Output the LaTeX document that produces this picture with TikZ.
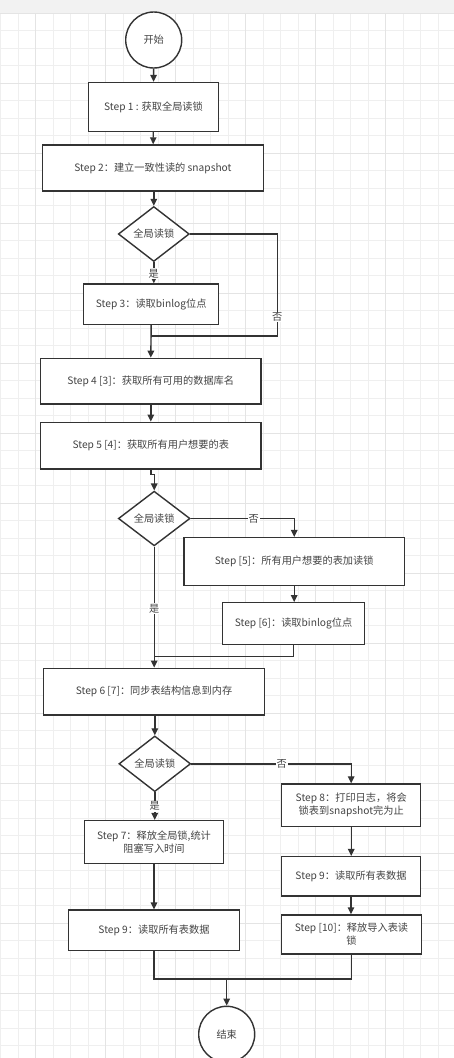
\documentclass[tikz,border=0pt]{standalone}
\usepackage{fontspec}
\setmainfont{Noto Sans CJK SC}
\usetikzlibrary{shapes.geometric,arrows.meta}
\definecolor{ink}{HTML}{333333}
\definecolor{txt}{HTML}{444444}
\definecolor{gminor}{HTML}{EFEFEF}
\definecolor{gmajor}{HTML}{E4E4E4}
\definecolor{band}{HTML}{F2F2F2}
\tikzset{
  base/.style={draw=ink, line width=1.4pt, text=txt, font=\fontsize{10.2}{13}\selectfont, align=center, inner sep=0pt},
  stepbox/.style={base, rectangle, fill=white},
  decide/.style={base, diamond, fill=white, aspect=1.3},
  term/.style={base, circle, fill=white, minimum size=56pt},
  flow/.style={draw=ink, line width=1.4pt, -{Triangle[width=6.5pt,length=7pt]}},
  link/.style={draw=ink, line width=1.4pt},
  lbl/.style={fill=white, text=txt, font=\fontsize{10.2}{12}\selectfont, inner sep=1pt}
}
\begin{document}
\begin{tikzpicture}[x=1pt,y=-1pt]
\useasboundingbox (0,0) rectangle (454,1058);
% background
\fill[band] (0,0) rectangle (454,13.3);
\fill[white] (0,13.3) rectangle (454,1058);
\foreach \i in {0,...,26} {
  \draw[gminor, line width=1pt] ({0.7+17.5*\i},13.3) -- ({0.7+17.5*\i},1058);
}
\foreach \j in {0,...,60} {
  \draw[gminor, line width=1pt] (0,{13.3+17.5*\j}) -- (454,{13.3+17.5*\j});
}
\foreach \i in {0,...,6} {
  \draw[gmajor, line width=1.3pt] ({35.7+70*\i},13.3) -- ({35.7+70*\i},1058);
}
\foreach \j in {0,...,15} {
  \draw[gmajor, line width=1.3pt] (0,{13.3+70*\j}) -- (454,{13.3+70*\j});
}
% nodes
\node[term] (start) at (153.7,40) {开始};
\node[stepbox, minimum width=129.6pt, minimum height=49pt] (s1) at (153.5,107) {Step 1 : 获取全局读锁};
\node[stepbox, minimum width=220.6pt, minimum height=46pt] (s2) at (153,168) {Step 2：建立一致性读的 snapshot};
\node[decide, minimum width=71pt, minimum height=55pt] (d1) at (153.8,234) {全局读锁};
\node[stepbox, minimum width=135pt, minimum height=40.3pt] (s3) at (151.2,304.2) {Step 3：读取binlog位点};
\node[stepbox, minimum width=220.3pt, minimum height=45.7pt] (s4) at (150.8,381.2) {Step 4 [3]：获取所有可用的数据库名};
\node[stepbox, minimum width=220.3pt, minimum height=46.7pt] (s5) at (150.8,445.7) {Step 5 [4]：获取所有用户想要的表};
\node[decide, minimum width=71.7pt, minimum height=54.7pt] (d2) at (154.2,518.5) {全局读锁};
\node[stepbox, minimum width=220.7pt, minimum height=47.7pt] (s5b) at (294.2,561.5) {Step [5]：所有用户想要的表加读锁};
\node[stepbox, minimum width=141.7pt, minimum height=42pt] (s6b) at (293.5,623.7) {Step [6]：读取binlog位点};
\node[stepbox, minimum width=220.7pt, minimum height=46.7pt] (s6) at (154,691.7) {Step 6 [7]：同步表结构信息到内存};
\node[decide, minimum width=71.7pt, minimum height=55.7pt] (d3) at (154.8,763.8) {全局读锁};
\node[stepbox, minimum width=139pt, minimum height=42.7pt] (s8) at (351.2,805.3) {Step 8：打印日志，将会\\锁表到snapshot完为止};
\node[stepbox, minimum width=138.7pt, minimum height=42.7pt] (s7) at (154,842) {Step 7：释放全局锁,统计\\阻塞写入时间};
\node[stepbox, minimum width=170.7pt, minimum height=40.3pt] (s9l) at (154,930.2) {Step 9：读取所有表数据};
\node[stepbox, minimum width=138.7pt, minimum height=39.3pt] (s9r) at (351,876.3) {Step 9：读取所有表数据};
\node[stepbox, minimum width=139.7pt, minimum height=39pt] (s10) at (351.5,934.5) {Step [10]：释放导入表读\\锁};
\node[term] (end) at (226.7,1034.3) {结束};
% junction coordinates
\coordinate (n1) at (277.3,336);
\coordinate (j1) at (151.2,336);
\coordinate (j2) at (154.2,656.7);
\coordinate (j3) at (226.7,979);
% connectors
\draw[flow] (start) -- (s1);
\draw[flow] (s1) -- (s2);
\draw[flow] (s2.south -| d1.north) -- (d1.north);
\draw[flow] (d1.south) -- (d1.south |- s3.north) node[lbl, pos=0.55] {是};
\draw[link] (d1.east) -| (n1) node[lbl, pos=0.907] {否} -- (j1);
\draw[flow] (s3.south) -- (s4.north);
\draw[flow] (s4.south) -- (s5.north);
\draw[flow] (s5.south) -- ++(0,5) -| (d2.north);
\draw[flow] (d2.east) -| (s5b.north) node[lbl, pos=0.304] {否};
\draw[flow] (s5b.south) -- (s5b.south |- s6b.north);
\draw[link] (s6b.south) |- (j2);
\draw[flow] (d2.south) -- (d2.south |- s6.north) node[lbl, pos=0.512] {是};
\draw[flow] (s6.south -| d3.north) -- (d3.north);
\draw[flow] (d3.east) -| (s8.north) node[lbl, pos=0.283] {否};
\draw[flow] (d3.south) -- (d3.south |- s7.north) node[lbl, pos=0.5] {是};
\draw[flow] (s7.south) -- (s7.south |- s9l.north);
\draw[flow] (s8.south) -- (s8.south |- s9r.north);
\draw[flow] (s9r.south) -- (s9r.south |- s10.north);
\draw[link] (s9l.south) |- (j3);
\draw[link] (s10.south) |- (j3);
\draw[flow] (j3) -- (end.north);
\end{tikzpicture}
\end{document}
